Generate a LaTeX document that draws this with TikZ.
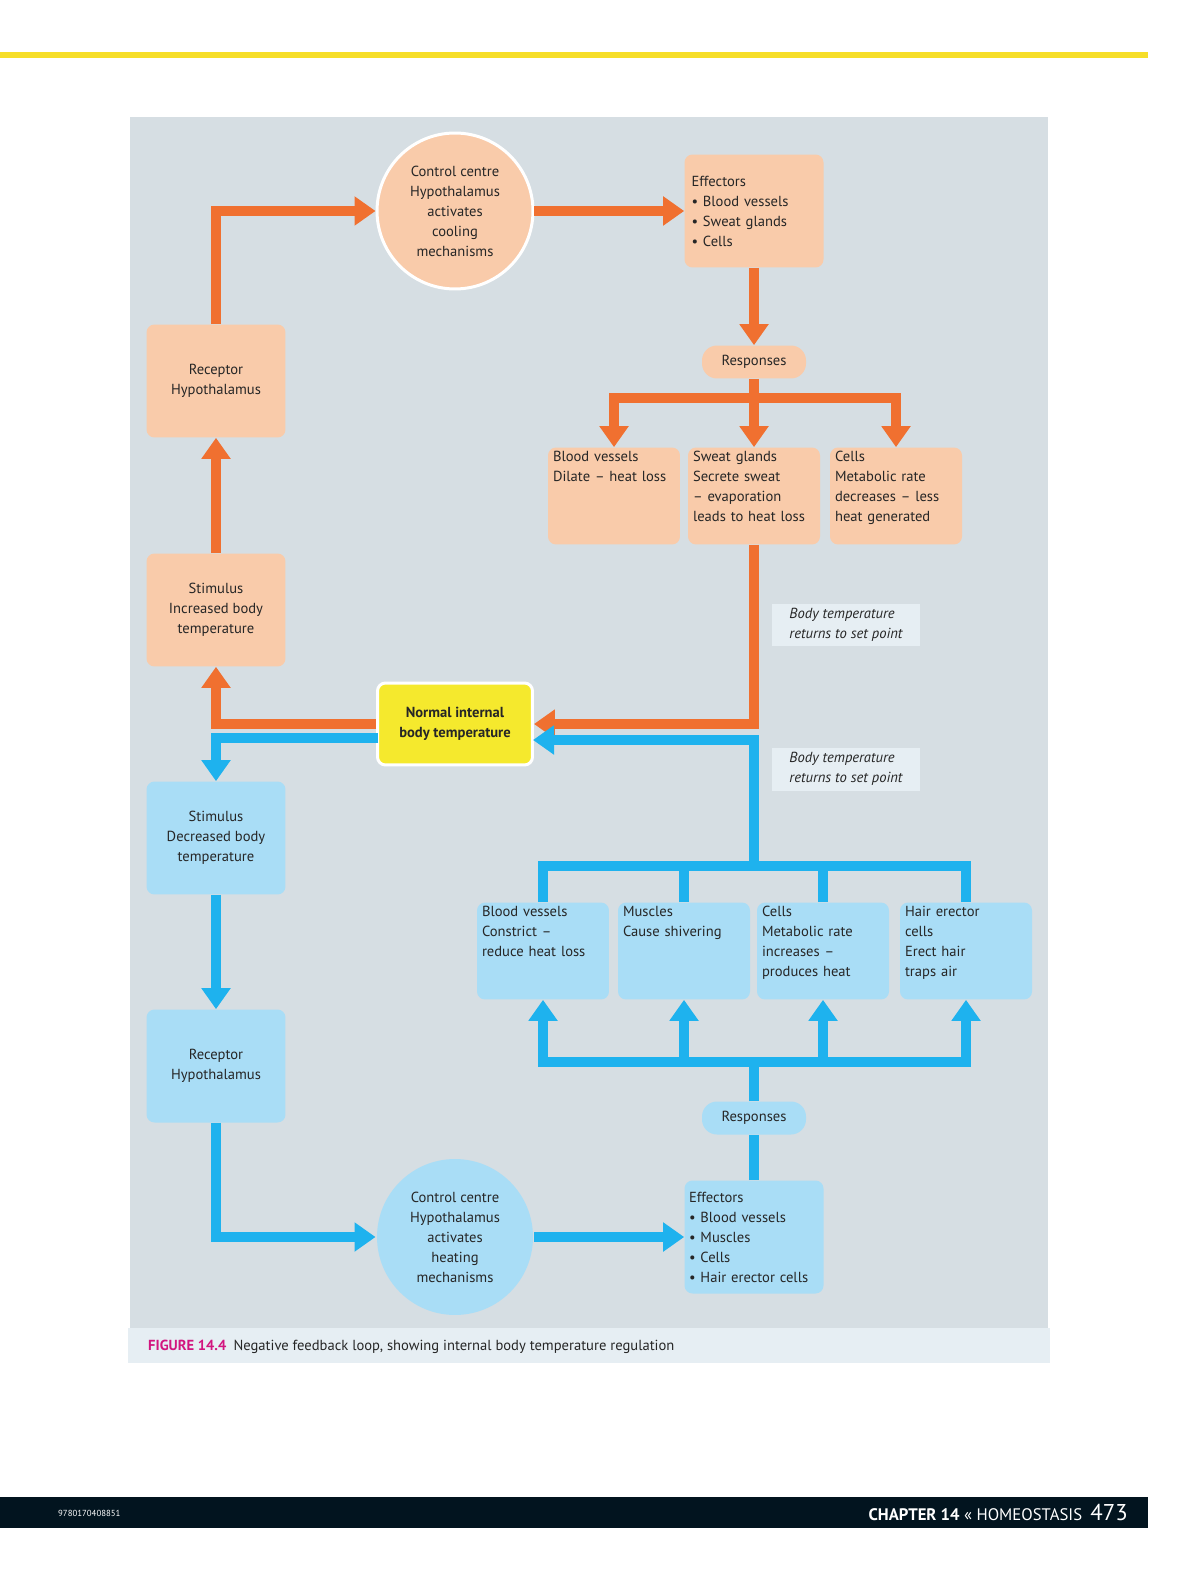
\documentclass[tikz,border=0pt]{standalone}
\usepackage{fontspec}
\setmainfont{PT Sans}
\usetikzlibrary{arrows.meta,positioning}
\definecolor{org}{HTML}{F07030}
\definecolor{orgf}{HTML}{F9CBAA}
\definecolor{blu}{HTML}{1EB2EE}
\definecolor{bluf}{HTML}{A9DDF6}
\definecolor{panel}{HTML}{D6DEE3}
\definecolor{capb}{HTML}{E6EEF3}
\definecolor{yel}{HTML}{F5E92D}
\definecolor{foot}{HTML}{02141F}
\definecolor{mag}{HTML}{D2157F}
\newcommand{\tb}[2]{\parbox[c][#1][t]{\linewidth}{\raggedright #2}}
\tikzset{
  every node/.style={font=\fontsize{8.3}{11.4}\selectfont, text=black!85},
  box/.style={rounded corners=0.16cm, inner sep=0pt, minimum width=2.78cm, minimum height=2.26cm, align=center},
  obox/.style={box, fill=orgf},
  bbox/.style={box, fill=bluf},
  sbox/.style={rounded corners=0.16cm, inner sep=0pt, text width=2.44cm, minimum width=2.64cm, minimum height=1.94cm},
  circ/.style={circle, draw=white, line width=0.06cm, minimum size=3.12cm, align=center, inner sep=0pt},
  resp/.style={rounded corners=0.3cm, minimum width=2.08cm, minimum height=0.66cm, inner sep=0pt},
  note/.style={fill=capb, minimum width=2.96cm, minimum height=0.86cm, align=left, font=\itshape\fontsize{8.3}{11.4}\selectfont, inner sep=0pt},
  oa/.style={draw=org, line width=0.2cm, -{Triangle[width=0.56cm,length=0.42cm]}},
  ol/.style={draw=org, line width=0.2cm},
  ba/.style={draw=blu, line width=0.2cm, -{Triangle[width=0.56cm,length=0.42cm]}},
  bl/.style={draw=blu, line width=0.2cm},
}
\begin{document}
\begin{tikzpicture}[x=0.02cm,y=-0.02cm]
\useasboundingbox (0,0) rectangle (1200,1577);
\fill[white] (0,0) rectangle (1200,1577);
\fill[yel!90!orange] (0,52) rectangle (1148,58);
\fill[panel] (130,117) rectangle (1048,1328);
\fill[capb] (128,1328) rectangle (1050,1363);
\fill[foot] (0,1497) rectangle (1148,1528);
\node[anchor=west, font=\fontsize{8.3}{11}\selectfont] (cap) at (142,1347) {{\color{mag}\bfseries FIGURE 14.4}\enspace Negative feedback loop, showing internal body temperature regulation};
\node[anchor=west, text=white, font=\fontsize{5}{6}\selectfont] (isbn) at (52,1513) {9780170408851};
\node[anchor=east, text=white, font=\fontsize{9.5}{12}\selectfont] (chap) at (1134,1512) {\textbf{CHAPTER 14} « HOMEOSTASIS\enspace{\fontsize{13}{13}\selectfont 473}};

% orange nodes
\node[circ, fill=orgf] (cct) at (455,211) {Control centre\\Hypothalamus\\activates\\cooling\\mechanisms};
\node[obox, align=left, text width=2.5cm] (eft) at (754,211) {Effectors\\• Blood vessels\\• Sweat glands\\• Cells};
\node[resp, fill=orgf] (rst) at (754,362) {Responses};
\node[sbox, fill=orgf] (bvo) at (614,496) {\tb{1.8cm}{Blood vessels\\Dilate – heat loss}};
\node[sbox, fill=orgf] (sgo) at (754,496) {\tb{1.8cm}{Sweat glands\\Secrete sweat\\– evaporation\\leads to heat loss}};
\node[sbox, fill=orgf] (ceo) at (896,496) {\tb{1.8cm}{Cells\\Metabolic rate\\decreases – less\\heat generated}};
\node[obox] (rct) at (216,381) {Receptor\\Hypothalamus};
\node[obox] (stt) at (216,610) {Stimulus\\Increased body\\temperature};
\node[note] (n1) at (846,625) {Body temperature\\returns to set point};
\node[note] (n2) at (846,769) {Body temperature\\returns to set point};
\node[draw=white, line width=0.06cm, fill=yel, rounded corners=0.16cm, minimum width=3.1cm, minimum height=1.64cm, align=center, font=\bfseries\fontsize{8.3}{11.4}\selectfont] (nor) at (455,724) {Normal internal\\body temperature};

% blue nodes
\node[bbox] (stb) at (216,838) {Stimulus\\Decreased body\\temperature};
\node[bbox] (rcb) at (216,1066) {Receptor\\Hypothalamus};
\node[circ, fill=bluf, draw=none] (ccb) at (455,1237) {Control centre\\Hypothalamus\\activates\\heating\\mechanisms};
\node[bbox, align=left, text width=2.6cm] (efb) at (754,1237) {Effectors\\• Blood vessels\\• Muscles\\• Cells\\• Hair erector cells};
\node[resp, fill=bluf] (rsb) at (754,1118) {Responses};
\node[sbox, fill=bluf] (bvb) at (543,951) {\tb{1.8cm}{Blood vessels\\Constrict –\\reduce heat loss}};
\node[sbox, fill=bluf] (mub) at (684,951) {\tb{1.8cm}{Muscles\\Cause shivering}};
\node[sbox, fill=bluf] (ceb) at (823,951) {\tb{1.8cm}{Cells\\Metabolic rate\\increases –\\produces heat}};
\node[sbox, fill=bluf] (hab) at (966,951) {\tb{1.8cm}{Hair erector\\cells\\Erect hair\\traps air}};

% orange connectors
\draw[oa] (rct.north) |- (cct.west);
\draw[oa] (cct.east) -- (eft.west);
\draw[oa] (eft.south) -- (rst.north);
\coordinate (ob) at (754,398);
\draw[ol] (rst.south) -- (ob);
\draw[ol] ([xshift=-0.1cm]bvo.north |- ob) -- ([xshift=0.1cm]ceo.north |- ob);
\draw[oa] (bvo.north |- ob) -- (bvo.north);
\draw[oa] (ob) -- (sgo.north);
\draw[oa] (ceo.north |- ob) -- (ceo.north);
\draw[oa] (sgo.south) |- (nor.east);
\draw[oa] (stt.north) -- (rct.south);
\draw[oa] (nor.west) -| (stt.south);

% blue connectors
\coordinate (nl) at (378,738);
\coordinate (nr) at (533,740);
\draw[ba] (nl) -| (stb.north);
\draw[ba] (stb.south) -- (rcb.north);
\draw[ba] (rcb.south) |- (ccb.west);
\draw[ba] (ccb.east) -- (efb.west);
\draw[bl] (efb.north) -- (rsb.south);
\coordinate (bb) at (754,1062);
\coordinate (bt) at (754,866);
\draw[bl] (rsb.north) -- (bb);
\draw[bl] ([xshift=-0.1cm]bvb.south |- bb) -- ([xshift=0.1cm]hab.south |- bb);
\draw[bl] ([xshift=-0.1cm]bvb.north |- bt) -- ([xshift=0.1cm]hab.north |- bt);
\foreach \n in {bvb,mub,ceb,hab}{
  \draw[ba] (\n.south |- bb) -- (\n.south);
  \draw[bl] (\n.north) -- (\n.north |- bt);
}
\draw[ba] (bt) |- (nr);
\end{tikzpicture}
\end{document}
